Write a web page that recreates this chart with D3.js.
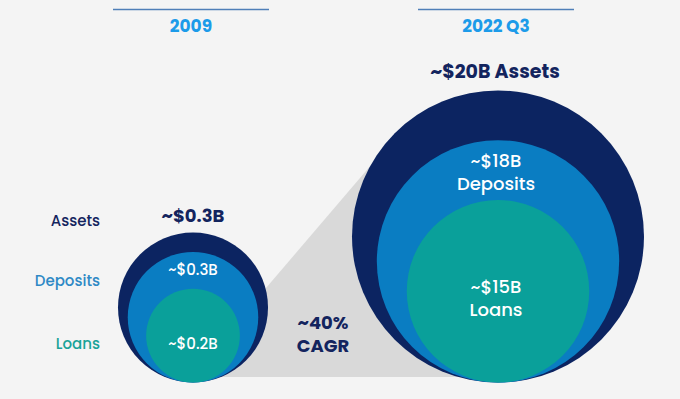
<!DOCTYPE html>
<html>
<head>
<meta charset="utf-8">
<script src="https://cdn.jsdelivr.net/npm/d3@7"></script>
<style>
  html, body { margin: 0; padding: 0; background: #f4f4f4; }
  svg { display: block; font-family: "Poppins", "Inter", "Noto Sans", sans-serif; }
</style>
</head>
<body>
<div id="chart"></div>
<script>
// Chart data.
const periods = ["2009", "2022 Q3"];
const metrics = ["Assets", "Deposits", "Loans"];
const values2009 = ["~$0.3B", "~$0.3B", "~$0.2B"];
const values2022 = ["~$20B", "~$18B", "~$15B"];
const growthLabel = ["~40%", "CAGR"];

function createBubbleChart(width, height) {
    const baseY = 382.5;

    // Horizontal position of each period's bubble group.
    const x = d3.scalePoint()
        .domain(periods)
        .range([193, 498]);

    // Outer radius of each group, and nested size of each metric.
    const outer = d3.scaleOrdinal().domain(periods).range([75, 146]);
    const nest = {
        "2009": d3.scaleOrdinal().domain(metrics).range([1, 0.87, 0.625]),
        "2022 Q3": d3.scaleOrdinal().domain(metrics).range([1, 0.83, 0.625])
    };

    const fills = d3.scaleOrdinal().domain(metrics).range(["#0c2461", "#0a7dc2", "#0aa09a"]);
    const labelColors = d3.scaleOrdinal().domain(metrics).range(["#13245e", "#2e89c5", "#19a399"]);

    const svg = d3.create("svg")
        .attr("width", width)
        .attr("height", height)
        .attr("viewBox", [0, 0, width, height]);

    svg.append("rect")
        .attr("width", width)
        .attr("height", height)
        .attr("fill", "#f4f4f4");

    // Period headers with rule above.
    const header = svg.selectAll(".header")
        .data(periods)
        .join("g")
        .attr("class", "header")
        .attr("transform", d => `translate(${x(d) - 2},0)`);

    header.append("line")
        .attr("x1", -78)
        .attr("x2", 78)
        .attr("y1", 9.5)
        .attr("y2", 9.5)
        .attr("stroke", "#4f7fb8")
        .attr("stroke-width", 1.6);

    header.append("text")
        .attr("y", 32)
        .attr("text-anchor", "middle")
        .attr("fill", "#1c9be9")
        .style("font-size", "17px")
        .style("font-weight", 700)
        .text(d => d);

    // Grey growth wedge between the two groups.
    const bigR = outer(periods[1]);
    const bigCy = baseY - bigR;
    const wedge = [
        [x(periods[0]) - 3, 377],
        [389, 144],
        [x(periods[1]), bigCy],
        [x(periods[1]), 377]
    ];
    svg.append("path")
        .attr("d", d3.line()(wedge) + "Z")
        .attr("fill", "#d9d9d9");

    // Nested bubbles, bottom aligned.
    periods.forEach(p => {
        const r = m => outer(p) * nest[p](m);
        svg.append("g")
            .selectAll("circle")
            .data(metrics)
            .join("circle")
            .attr("cx", x(p))
            .attr("cy", m => baseY - r(m))
            .attr("r", r)
            .attr("fill", m => fills(m));
    });

    // Left metric legend for 2009.
    svg.append("g")
        .selectAll("text")
        .data(metrics)
        .join("text")
        .attr("x", 100)
        .attr("y", (d, i) => [225.5, 286, 349][i])
        .attr("text-anchor", "end")
        .attr("fill", d => labelColors(d))
        .style("font-size", "15px")
        .style("font-weight", 500)
        .text(d => d);

    // 2009 value labels.
    const x0 = x(periods[0]);
    svg.append("text")
        .attr("x", x0)
        .attr("y", 222)
        .attr("text-anchor", "middle")
        .attr("fill", "#13245e")
        .style("font-size", "18px")
        .style("font-weight", 700)
        .text(values2009[0]);

    svg.append("g")
        .selectAll("text")
        .data(values2009.slice(1))
        .join("text")
        .attr("x", x0)
        .attr("y", (d, i) => [275, 349][i])
        .attr("text-anchor", "middle")
        .attr("fill", "#ffffff")
        .style("font-size", "15px")
        .style("font-weight", 500)
        .text(d => d);

    // 2022 value labels.
    const x1 = x(periods[1]);
    svg.append("text")
        .attr("x", x1 - 3)
        .attr("y", 78)
        .attr("text-anchor", "middle")
        .attr("fill", "#13245e")
        .style("font-size", "19px")
        .style("font-weight", 700)
        .text(`${values2022[0]} ${metrics[0]}`);

    const inner = [
        [values2022[1], metrics[1], 167],
        [values2022[2], metrics[2], 293]
    ];
    inner.forEach(([v, m, y]) => {
        const t = svg.append("text")
            .attr("x", x1 - 2)
            .attr("y", y)
            .attr("text-anchor", "middle")
            .attr("fill", "#ffffff")
            .style("font-size", "18px")
            .style("font-weight", 500);
        t.append("tspan").attr("x", x1 - 2).text(v);
        t.append("tspan").attr("x", x1 - 2).attr("dy", 23).text(m);
    });

    // Growth label.
    svg.append("text")
        .attr("x", 323)
        .attr("y", 329)
        .attr("text-anchor", "middle")
        .attr("fill", "#13245e")
        .style("font-size", "18px")
        .style("font-weight", 700)
        .selectAll("tspan")
        .data(growthLabel)
        .join("tspan")
        .attr("x", 323)
        .attr("dy", (d, i) => i ? 23 : 0)
        .text(d => d);

    return svg.node();
}

document.getElementById("chart").appendChild(createBubbleChart(680, 399));
</script>
</body>
</html>
